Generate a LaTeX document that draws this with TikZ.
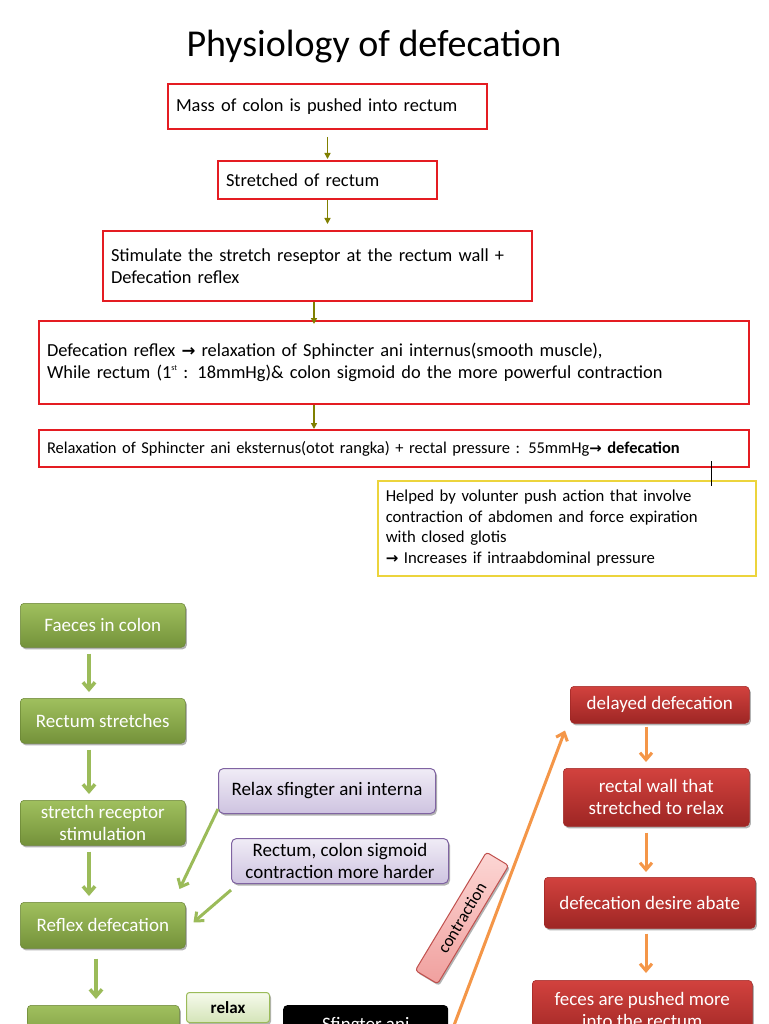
\documentclass[tikz,border=0pt]{standalone}
\usepackage{fontspec}
\setmainfont{Carlito}
\newfontfamily\djv{DejaVu Sans}
\usetikzlibrary{arrows.meta,shadows,calc}
\definecolor{redline}{RGB}{228,28,34}
\definecolor{olivearr}{RGB}{128,128,0}
\definecolor{yelline}{RGB}{236,212,60}
\definecolor{gtop}{RGB}{160,192,94}
\definecolor{gbot}{RGB}{116,146,58}
\definecolor{garrow}{RGB}{155,187,89}
\definecolor{ptop}{RGB}{240,236,246}
\definecolor{pbot}{RGB}{206,195,224}
\definecolor{pline}{RGB}{128,100,162}
\definecolor{rtop}{RGB}{210,66,62}
\definecolor{rbot}{RGB}{158,38,36}
\definecolor{oarrow}{RGB}{244,150,72}
\definecolor{pktop}{RGB}{252,214,212}
\definecolor{pkbot}{RGB}{240,160,158}
\definecolor{pkline}{RGB}{192,80,77}
\definecolor{lgtop}{RGB}{246,250,236}
\definecolor{lgbot}{RGB}{212,228,184}
\newcommand\rarr{{\djv\bfseries\fontsize{0.9em}{1em}\selectfont →}}
\newcommand\supst{\raisebox{0.45em}{\fontsize{8}{8}\selectfont st}}
\tikzset{
  x=1pt, y=-1pt,
  topbox/.style={draw=redline, line width=2pt, anchor=north west, inner xsep=8pt, inner ysep=0pt,
    align=left, font=\fontsize{18.4}{22}\selectfont},
  yelbox/.style={draw=yelline, line width=1.5pt, anchor=north west, inner xsep=8pt, inner ysep=0pt,
    align=left, font=\fontsize{16.7}{20.5}\selectfont},
  oarr/.style={draw=olivearr, line width=1.8pt, -{Triangle[length=6pt,width=6pt]}},
  shadowed/.style={drop shadow={shadow xshift=1.5pt, shadow yshift=-2pt, opacity=0.3, fill=black}},
  greenbox/.style={shadowed, anchor=north west, rounded corners=4pt, top color=gtop, bottom color=gbot,
    draw=gbot!90!black, line width=0.5pt, text=white, align=center, inner sep=2pt,
    font=\fontsize{19}{22}\selectfont},
  purplebox/.style={shadowed, anchor=north west, rounded corners=5pt, top color=ptop, bottom color=pbot,
    draw=pline, line width=1pt, text=black, align=center, inner sep=2pt,
    font=\fontsize{19}{22}\selectfont},
  redbox/.style={shadowed, anchor=north west, rounded corners=4pt, top color=rtop, bottom color=rbot,
    draw=rbot, line width=0.5pt, text=white, align=center, inner sep=2pt,
    font=\fontsize{19}{22}\selectfont},
  gar/.style={draw=garrow, line width=3.5pt, -{Straight Barb[length=7pt,width=12pt]}},
  orar/.style={draw=oarrow, line width=3pt, -{Straight Barb[length=7pt,width=12pt]}},
}
\begin{document}
\begin{tikzpicture}
\useasboundingbox (0,0) rectangle (768,1024);
\clip (0,0) rectangle (768,1024);
\fill[white] (0,0) rectangle (768,1024);

% title
\node[font=\fontsize{38}{44}\selectfont] (title) at (374,47) {Physiology of defecation};

% top flow
\node[topbox, minimum width=319pt, minimum height=45pt, text width=303pt] (b1) at (167,83)
  {Mass of colon is pushed into rectum};
\node[topbox, minimum width=219pt, minimum height=38pt, text width=203pt] (b2) at (217,160)
  {Stretched of rectum};
\node[topbox, minimum width=429pt, minimum height=70pt, text width=413pt] (b3) at (102,230)
  {Stimulate the stretch reseptor at the rectum wall +\\Defecation reflex};
\node[topbox, minimum width=710pt, minimum height=83pt, text width=694pt] (b4) at (38,320)
  {Defecation reflex \rarr{} relaxation of Sphincter ani internus(smooth muscle),\\
   While rectum (1\supst{} : 18mmHg)\& colon sigmoid do the more powerful contraction};
\node[topbox, minimum width=710pt, minimum height=37pt, text width=694pt, font=\fontsize{16.5}{20}\selectfont] (b5) at (38,429)
  {Relaxation of Sphincter ani eksternus(otot rangka) + rectal pressure : 55mmHg\rarr{} \textbf{defecation}};
\node[yelbox, minimum width=378pt, minimum height=95pt, text width=362pt] (yb) at (377,480)
  {Helped by volunter push action that involve\\contraction of abdomen and force expiration\\with closed glotis\\\rarr{} Increases if intraabdominal pressure};

\draw[oarr, shorten <=7pt, shorten >=1pt] (b1.south) -- (b2.north);
\draw[oarr, shorten >=6pt] (b2.south) -- (b2.south |- b3.north);
\coordinate (ocl) at (314,0);
\draw[oarr, shorten >=-4pt] (b3.south -| ocl) -- (b4.north -| ocl);
\draw[oarr] (b4.south -| ocl) -- (b5.north -| ocl);
\coordinate (lt) at (711,461);
\coordinate (lb) at (711,486);
\draw[black, line width=1pt] (lt) -- (lb);

% green column
\node[greenbox, minimum width=165pt, minimum height=44pt] (g1) at (20,603) {Faeces in colon};
\node[greenbox, minimum width=165pt, minimum height=45pt] (g2) at (20,698) {Rectum stretches};
\node[greenbox, minimum width=165pt, minimum height=45pt] (g3) at (20,800) {stretch receptor\\stimulation};
\node[greenbox, minimum width=165pt, minimum height=46pt] (g4) at (20,902) {Reflex defecation};
\node[greenbox, minimum width=152pt, minimum height=46pt] (g5) at (27,1005) {};
\coordinate (gc) at (89,0);
\coordinate (gd) at (96,0);
\draw[gar, shorten <=6pt, shorten >=6pt] (g1.south -| gc) -- (g2.north -| gc);
\draw[gar, shorten <=6pt, shorten >=6pt] (g2.south -| gc) -- (g3.north -| gc);
\draw[gar, shorten <=6pt, shorten >=6pt] (g3.south -| gc) -- (g4.north -| gc);
\draw[gar, shorten <=10pt, shorten >=6pt] (g4.south -| gd) -- (g5.north -| gd);

% purple
\node[purplebox, minimum width=217pt, minimum height=45pt] (p1) at (218,768) {Relax sfingter ani interna};
\node[purplebox, minimum width=217pt, minimum height=45pt] (p2) at (231,838) {Rectum, colon sigmoid\\contraction more harder};
\draw[gar, line width=3pt] ([yshift=5pt]p1.south west) -- ([xshift=-6pt,yshift=13pt]g4.north east);
\draw[gar, line width=3pt] ([yshift=-6pt]p2.south west) -- ([xshift=8pt,yshift=3pt]g4.east);

% relax / sfingter
\node[shadowed, anchor=north west, rounded corners=3pt, top color=lgtop, bottom color=lgbot, draw=garrow,
  line width=1pt, minimum width=83pt, minimum height=30pt, inner sep=1pt,
  font=\bfseries\fontsize{17}{20}\selectfont] (rl) at (186,992) {relax};
\node[anchor=north west, rounded corners=4pt, fill=black, text=white, minimum width=165pt, minimum height=70pt,
  text depth=32pt, inner sep=2pt, font=\fontsize{19}{22}\selectfont] (sb) at (283,1005) {Sfingter ani};

% red column
\node[redbox, minimum width=179pt, minimum height=37pt] (r1) at (570,686) {delayed defecation};
\node[redbox, minimum width=186pt, minimum height=58pt] (r2) at (563,768) {rectal wall that\\stretched to relax};
\node[redbox, minimum width=211pt, minimum height=51pt] (r3) at (544,877) {defecation desire abate};
\node[redbox, minimum width=220pt, minimum height=60pt] (r4) at (532,980) {feces are pushed more\\into the rectum};
\coordinate (oc) at (646,0);
\draw[orar, shorten <=3pt, shorten >=6pt] (r1.south -| oc) -- (r2.north -| oc);
\draw[orar, shorten <=6pt, shorten >=5pt] (r2.south -| oc) -- (r3.north -| oc);
\draw[orar, shorten <=5pt, shorten >=7pt] (r3.south -| oc) -- (r4.north -| oc);

% long contraction arrow
\draw[orar] (sb.east) -- ([xshift=-5pt,yshift=-7pt]r1.south west);
\node[shadowed, rotate=59, rounded corners=3pt, top color=pktop, bottom color=pkbot, draw=pkline, line width=1pt,
  minimum width=138pt, minimum height=26pt, inner sep=1pt, font=\fontsize{17}{20}\selectfont] (ct) at (462,918) {contraction};
\end{tikzpicture}
\end{document}
